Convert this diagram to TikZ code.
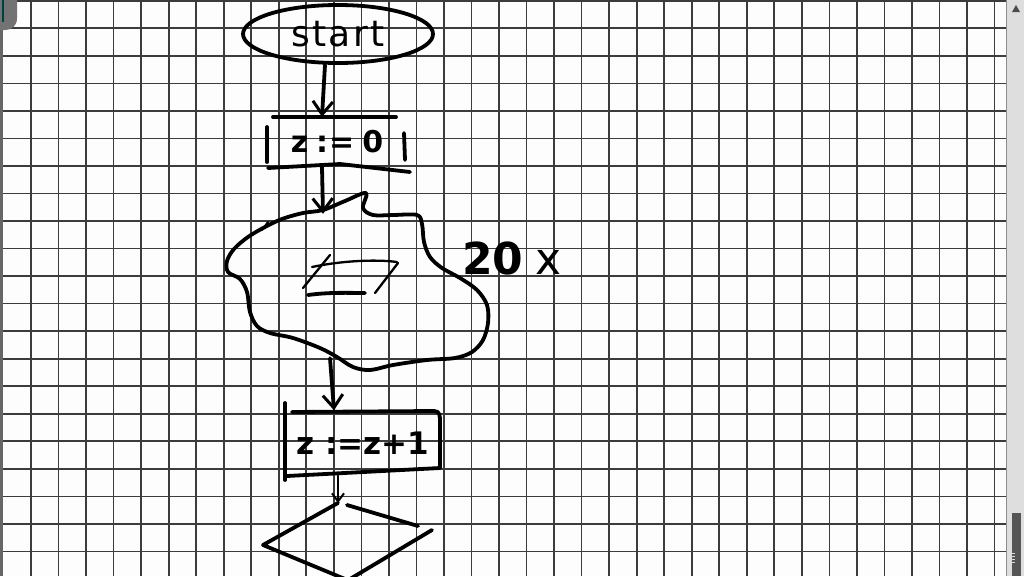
\documentclass[tikz,border=0pt]{standalone}
\usepackage{fontspec}
\setmainfont{DejaVu Sans}
\usetikzlibrary{arrows.meta,shapes.geometric,calc}
\definecolor{gridc}{HTML}{3C3C3C}
\definecolor{paper}{HTML}{FDFDFD}
\definecolor{sbar}{HTML}{DEDEDE}
\definecolor{thumbc}{HTML}{555555}
\begin{document}
\begin{tikzpicture}[x=1pt,y=-1pt,
  ink/.style={line width=3.8pt,line cap=round,line join=round},
  thinink/.style={line width=2.3pt,line cap=round,line join=round},
  arr/.style={ink,-{Straight Barb[length=13pt,width=20pt,line width=3pt]}},
  gridline/.style={gridc,line width=1.7pt},
  hand/.style={font=\fontsize{30}{30}\selectfont\bfseries, inner sep=0pt}
]
\fill[paper] (0,0) rectangle (1024,576);
\useasboundingbox (0,0) rectangle (1024,576);
% grid
\foreach \i in {0,...,35} \draw[gridline] ({31+27.53*\i},0) -- ({31+27.53*\i},576);
\foreach \j in {0,...,20} \draw[gridline] (0,{0.8+27.53*\j}) -- (1006,{0.8+27.53*\j});
% window edges
\fill[black!60] (0,0) rectangle (2.5,576);
\fill[black!55] (0,0) -- (17,0) -- (17,18) .. controls (17,26) and (12,30) .. (4,30) -- (0,30) -- cycle;
\draw[teal!50!black, line width=1.5pt] (3,0) -- (3,22);
\fill[sbar] (1006,0) rectangle (1024,576);
\draw[black!45, line width=1pt] (1006.5,0) -- (1006.5,576);
\fill[black!70] (1012,12) -- (1016,5) -- (1020,12) -- cycle;
\fill[thumbc] (1012,513) rectangle (1021,576);
\foreach \y in {553,556,559,562} \draw[black!15, line width=0.8pt] (1010,\y) -- (1015,\y);

% start
\node[ellipse, draw, ink, minimum width=190pt, minimum height=58pt,
      font=\fontsize{36}{36}\selectfont\addfontfeature{LetterSpace=6}] (start) at (338,34) {start};

% z:=0
\node[hand, minimum width=140pt, minimum height=50pt] (z0) at (337,142) {z\hspace{8pt}:\hspace{1pt}=\hspace{8pt}0};
\draw[ink] (273,117) -- (396,117);
\draw[ink] (267,127) -- (267,162);
\draw[ink] (268,168) -- (340,164) -- (410,172);
\draw[ink] (404,133) -- (405,160);

% loop blob
\node[minimum width=260pt, minimum height=146pt, inner sep=0pt] (loop) at (357,285) {};
\draw[ink] plot[smooth cycle, tension=0.55] coordinates {
 (323,210) (345,201) (366,193) (363,208) (373,215) (393,215) (417,215) (422,224)
 (424,242) (430,257) (442,268) (460,278) (477,290) (487,305) (488,323) (483,340)
 (472,352) (455,358) (427,360) (393,365) (370,370) (353,367) (337,357) (320,348)
 (293,338) (270,333) (257,326) (250,312) (247,292) (240,279) (228,272) (227,261)
 (234,249) (248,237) (265,227) (282,219) (303,213)};
\draw[line width=2pt,line cap=round] (262,230) -- (268,222);
\draw[thinink] (312,267) .. controls (340,261) and (375,259) .. (397,262);
\draw[thinink] (330,255) -- (303,288);
\draw[thinink] (398,263) -- (375,293);
\draw[ink] (308,295) .. controls (330,292) and (350,293) .. (365,293);
\node[font=\fontsize{44}{44}\selectfont, inner sep=0pt] (times) at (512,258) {\textbf{20}\hspace{12pt}x};

% z:=z+1
\node[hand, font=\fontsize{31}{31}\selectfont\bfseries, minimum width=153pt, minimum height=65pt] (zz) at (363,443) {z :=z+1};
\draw[ink] (285,403) -- (285,480);
\draw[ink] (292,412) -- (434,411) .. controls (440,411) and (440,416) .. (440,422) -- (440,468);
\draw[ink] (287,476) -- (440,468);

% decision
\coordinate (cond) at (338,503);
\draw[ink] (cond) -- (263,545) -- (345,579);
\draw[ink] (347,505) -- (418,526);
\draw[ink] (432,530) -- (350,579);

% connectors
\draw[arr] ([xshift=-13pt]start.south) -- ([xshift=-15pt]z0.north);
\draw[arr] ([xshift=-15pt]z0.south) -- ([xshift=-34pt,yshift=-2pt]loop.north);
\draw[arr] ([xshift=-27pt]loop.south) -- ([xshift=-29pt]zz.north);
\draw[line width=2.5pt,line cap=round,-{Straight Barb[length=8pt,width=12pt,line width=2pt]}] ([xshift=-25pt]zz.south) -- (cond);
\end{tikzpicture}
\end{document}
